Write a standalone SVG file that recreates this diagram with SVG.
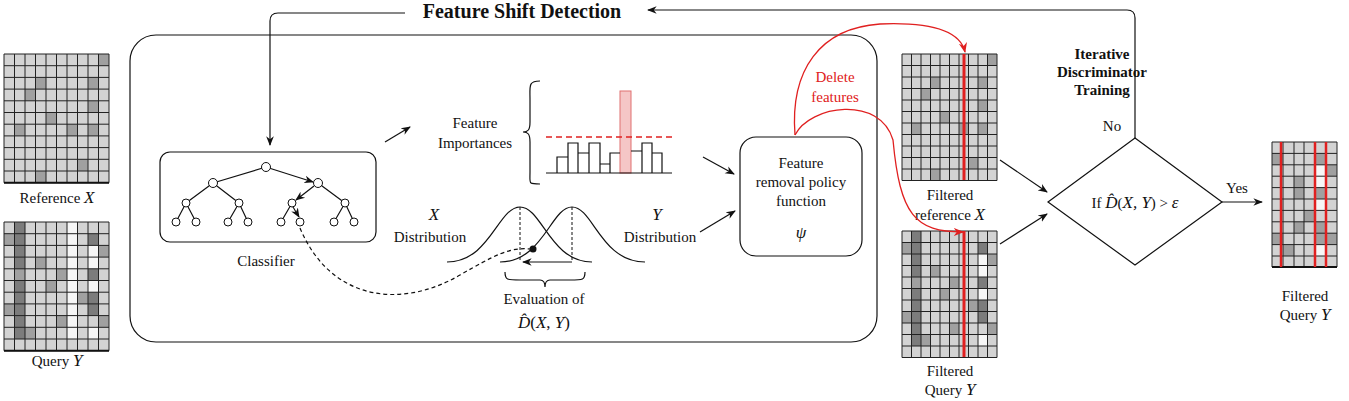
<svg xmlns="http://www.w3.org/2000/svg" width="1349" height="401" viewBox="0 0 1349 401">
<defs>
<style>
text{font-family:"Liberation Serif","Times New Roman",serif;font-size:15px;fill:#111;text-anchor:middle}
.it{font-style:italic;font-size:17px}
.ln{fill:none;stroke:#111;stroke-width:1.2}
.gl{fill:none;stroke:#222;stroke-width:1}
.red{fill:none;stroke:#e02020;stroke-width:1.3}
.nd{fill:#fff;stroke:#111;stroke-width:1}
.d1{fill:#a0a0a0}.d2{fill:#7c7c7c}.w{fill:#f6f6f6}
</style>
<marker id="ah" viewBox="0 0 10 10" refX="9" refY="5" markerWidth="8" markerHeight="8" orient="auto-start-reverse"><path d="M0,1 L10,5 L0,9 L3,5z" fill="#111"/></marker>
<marker id="ahr" viewBox="0 0 10 10" refX="9" refY="5" markerWidth="8" markerHeight="8" orient="auto"><path d="M0,1 L10,5 L0,9 L3,5z" fill="#e02020"/></marker>
<g id="refcells">
<rect class="d1" x="9" y="0" width="1" height="1"/><rect class="d1" x="3" y="2" width="1" height="1"/><rect class="d1" x="8" y="2" width="1" height="1"/><rect class="d1" x="2" y="3" width="1" height="1"/><rect class="d1" x="8" y="4" width="1" height="1"/><rect class="d1" x="4" y="5" width="1" height="1"/><rect class="d1" x="1" y="6" width="1" height="1"/><rect class="d1" x="6" y="6" width="1" height="1"/><rect class="d1" x="8" y="6" width="1" height="1"/><rect class="d1" x="7" y="9" width="1" height="1"/><rect class="d1" x="3" y="10" width="1" height="1"/>
</g>
<g id="qcells">
<rect class="d2" x="1" y="0" width="1" height="10"/><rect class="w" x="6" y="0" width="1" height="10"/>
<rect class="d1" x="0" y="1" width="1" height="1"/><rect class="d2" x="8" y="1" width="1" height="1"/>
<rect class="w" x="8" y="2" width="1" height="2"/><rect class="d1" x="9" y="2" width="1" height="1"/>
<rect class="d1" x="3" y="3" width="1" height="1"/><rect class="d1" x="1" y="4" width="1" height="1"/><rect class="d1" x="5" y="4" width="1" height="1"/><rect class="d2" x="8" y="4" width="1" height="1"/>
<rect class="d1" x="4" y="5" width="1" height="1"/><rect class="w" x="8" y="5" width="1" height="1"/>
<rect class="d1" x="7" y="6" width="1" height="1"/><rect class="d2" x="8" y="6" width="1" height="2"/>
<rect class="d1" x="0" y="7" width="1" height="1"/><rect class="d1" x="5" y="8" width="1" height="1"/><rect class="d1" x="9" y="8" width="1" height="1"/>
<rect class="d1" x="2" y="9" width="1" height="1"/><rect class="w" x="8" y="9" width="1" height="1"/>
</g>
</defs>
<rect width="1349" height="401" fill="#fff"/>

<g id="referenceX">
<g transform="translate(4,54) scale(10.5,11.7)"><rect width="10" height="11" fill="#d3d3d3"/><use href="#refcells"/></g>
<path class="gl" d="M4,54 h105 v128.7 h-105z M14.5,54v128.7M25,54v128.7M35.5,54v128.7M46,54v128.7M56.5,54v128.7M67,54v128.7M77.5,54v128.7M88,54v128.7M98.5,54v128.7M4,65.7h105M4,77.4h105M4,89.1h105M4,100.8h105M4,112.5h105M4,124.2h105M4,135.9h105M4,147.6h105M4,159.3h105M4,171h105"/>
<path d="M4,182.7h105" stroke="#111" stroke-width="2"/>
<text x="57" y="203">Reference <tspan class="it">X</tspan></text>
</g>

<g id="queryY">
<g transform="translate(4,222) scale(10.5,11.7)"><rect width="10" height="11" fill="#d3d3d3"/><use href="#qcells"/></g>
<path class="gl" d="M4,222 h105 v128.7 h-105z M14.5,222v128.7M25,222v128.7M35.5,222v128.7M46,222v128.7M56.5,222v128.7M67,222v128.7M77.5,222v128.7M88,222v128.7M98.5,222v128.7M4,233.7h105M4,245.4h105M4,257.1h105M4,268.8h105M4,280.5h105M4,292.2h105M4,303.9h105M4,315.6h105M4,327.3h105M4,339h105"/>
<path d="M4,350.7h105" stroke="#111" stroke-width="2"/>
<text x="57" y="366">Query <tspan class="it">Y</tspan></text>
</g>

<g id="title"><text x="522" y="18" style="font-weight:bold;font-size:20px">Feature Shift Detection</text></g>

<g id="mainbox"><rect x="130" y="35" width="747" height="307" rx="26" class="ln"/></g>

<g id="classifier">
<rect x="160" y="152" width="216" height="90" rx="10" class="ln"/>
<g class="ln" stroke-width="1">
<path d="M266,167L213,183M213,183L186,203M213,183L239,203M318,183L345,203M186,203L176,222M186,203L196,222M239,203L228,222M239,203L248,222M292,203L281,222M345,203L334,222M345,203L354,222"/>
</g>
<g class="ln" stroke-width="2">
<path d="M269,168L313,182" marker-end="url(#ah)"/><path d="M314,186L296,200" marker-end="url(#ah)"/><path d="M293,207L299,217" marker-end="url(#ah)"/>
</g>
<g class="nd"><circle cx="266" cy="167" r="4.5"/><circle cx="213" cy="183" r="4.5"/><circle cx="318" cy="183" r="4.5"/>
<circle cx="186" cy="203" r="4"/><circle cx="239" cy="203" r="4"/><circle cx="292" cy="203" r="4"/><circle cx="345" cy="203" r="4"/>
<circle cx="176" cy="222" r="4"/><circle cx="196" cy="222" r="4"/><circle cx="228" cy="222" r="4"/><circle cx="248" cy="222" r="4"/><circle cx="281" cy="222" r="4"/><circle cx="300" cy="222" r="4"/><circle cx="334" cy="222" r="4"/><circle cx="354" cy="222" r="4"/></g>
<text x="266" y="266">Classifier</text>
</g>

<g id="importances">
<text x="475" y="128">Feature</text><text x="475" y="148">Importances</text>
<path class="ln" d="M540,81 C528,81 530,86 530,100 L530,122 C530,130 528,132 523,132 C528,132 530,134 530,142 L530,172 C530,184 528,184 540,184"/>
<rect x="620" y="91" width="11" height="82" fill="#f5c6c6" stroke="#e07070" stroke-width="1"/>
<g class="ln" stroke-width="1"><path d="M557,173V157H568V173M568,157V143H578V173M578,153H589V173M589,153V143H600V173M600,164H610V173M610,164V153H620M631,151H642V173M642,151V143H652V173M652,153H662V173"/></g>
<path d="M546,173H672" class="ln"/>
<path d="M546,137H672" stroke="#e02020" stroke-width="1.5" stroke-dasharray="6,4" fill="none"/>
</g>

<g id="distributions">
<path class="ln" stroke-width="2.5" d="M447,262 C490,262 498,207 520,207 C542,207 550,262 592,262"/>
<path class="ln" d="M500,262 C543,262 551,207 572,207 C593,207 601,262 645,262"/>
<path d="M520,207V262M572,207V262" stroke="#111" stroke-dasharray="3,2" fill="none"/>
<path class="ln" d="M572,262H523" marker-end="url(#ah)"/>
<circle cx="533" cy="249" r="3.5" fill="#111"/>
<text x="434" y="220" class="it">X</text><text x="430" y="242">Distribution</text>
<text x="657" y="220" class="it">Y</text><text x="660" y="242">Distribution</text>
<path class="ln" d="M505,272 C505,280 507,280 520,280 L540,280 C543,280 545,282 545,287 C545,282 547,280 550,280 L570,280 C583,280 585,280 585,272"/>
<text x="544" y="304">Evaluation of</text>
<text x="544" y="328" class="it">D̂<tspan style="font-style:normal">(</tspan>X<tspan style="font-style:normal">,</tspan> Y<tspan style="font-style:normal">)</tspan></text>
</g>

<g id="policy">
<rect x="740" y="137" width="122" height="119" rx="16" class="ln"/>
<text x="801" y="168">Feature</text><text x="801" y="187">removal policy</text><text x="801" y="206">function</text>
<text x="801" y="238" class="it">ψ</text>
</g>

<g id="filteredX">
<g transform="translate(902,54) scale(9.5,11.5)"><rect width="10" height="11" fill="#d3d3d3"/><use href="#refcells"/></g>
<path class="gl" d="M902,54h95v126.5h-95z M911.5,54v126.5M921,54v126.5M930.5,54v126.5M940,54v126.5M949.5,54v126.5M959,54v126.5M968.5,54v126.5M978,54v126.5M987.5,54v126.5M902,65.5h95M902,77h95M902,88.5h95M902,100h95M902,111.5h95M902,123h95M902,134.5h95M902,146h95M902,157.5h95M902,169h95"/>
<path d="M964,54V180" stroke="#e02020" stroke-width="3"/>
<text x="950" y="200">Filtered</text><text x="950" y="220">reference <tspan class="it">X</tspan></text>
</g>

<g id="filteredY">
<g transform="translate(902,231) scale(9.5,11.5)"><rect width="10" height="11" fill="#d3d3d3"/><use href="#qcells"/><rect x="6" width="1" height="11" fill="#d3d3d3"/></g>
<path class="gl" d="M902,231h95v126.5h-95z M911.5,231v126.5M921,231v126.5M930.5,231v126.5M940,231v126.5M949.5,231v126.5M959,231v126.5M968.5,231v126.5M978,231v126.5M987.5,231v126.5M902,242.5h95M902,254h95M902,265.5h95M902,277h95M902,288.5h95M902,300h95M902,311.5h95M902,323h95M902,334.5h95M902,346h95"/>
<path d="M964,231V357" stroke="#e02020" stroke-width="3"/>
<text x="950" y="376">Filtered</text><text x="950" y="395">Query <tspan class="it">Y</tspan></text>
</g>

<g id="decision">
<path d="M1135,138L1222,202L1135,265L1048,202Z" class="ln"/>
<text x="1135" y="208">If <tspan class="it">D̂</tspan>(<tspan class="it">X, Y</tspan>) &gt; <tspan class="it">ε</tspan></text>
<text x="1102" y="59" style="font-weight:bold">Iterative</text><text x="1102" y="77" style="font-weight:bold">Discriminator</text><text x="1102" y="95" style="font-weight:bold">Training</text>
<text x="1112" y="131">No</text><text x="1237" y="193">Yes</text>
</g>

<g id="final">
<rect x="1272" y="142" width="65" height="125" fill="#d3d3d3"/>
<rect x="1272" y="153.4" width="11" height="11.4" class="d1"/><rect x="1272" y="233.2" width="11" height="11.4" class="d1"/>
<rect x="1294" y="176.2" width="10" height="22.8" class="d1"/><rect x="1294" y="221.8" width="10" height="11.4" class="d1"/><rect x="1283" y="244.6" width="11" height="11.4" class="d1"/>
<rect x="1304" y="210.4" width="11" height="11.4" class="d1"/>
<rect x="1315" y="153.4" width="11" height="11.4" class="d1"/><rect x="1315" y="187.6" width="11" height="11.4" class="d1"/><rect x="1315" y="221.8" width="11" height="22.8" class="d1"/>
<rect x="1326" y="164.8" width="11" height="11.4" class="d1"/><rect x="1326" y="233.2" width="11" height="11.4" class="d1"/>
<rect x="1315" y="164.8" width="11" height="22.8" class="w"/><rect x="1315" y="199" width="11" height="11.4" class="w"/><rect x="1315" y="244.6" width="11" height="11.4" class="w"/>
<path class="gl" d="M1272,142h65v125h-65z M1283,142v125M1294,142v125M1304,142v125M1315,142v125M1326,142v125M1272,153.4h65M1272,164.8h65M1272,176.2h65M1272,187.6h65M1272,199h65M1272,210.4h65M1272,221.8h65M1272,233.2h65M1272,244.6h65M1272,256h65"/>
<path d="M1272,267h65" stroke="#111" stroke-width="2"/>
<path d="M1281,142V267M1315,142V267M1326,142V267" stroke="#e02020" stroke-width="2.5"/>
<text x="1305" y="301">Filtered</text><text x="1305" y="320">Query <tspan class="it">Y</tspan></text>
</g>

<g id="connectors">
<path class="ln" d="M405,13H278Q270,13 270,21V145" marker-end="url(#ah)"/>
<path class="ln" d="M1135,138V18Q1135,10 1127,10H648" marker-end="url(#ah)"/>
<path class="ln" d="M385,142L410,127" marker-end="url(#ah)"/>
<path class="ln" d="M703,157L734,174" marker-end="url(#ah)"/>
<path class="ln" d="M700,232L735,211" marker-end="url(#ah)"/>
<path class="ln" d="M1000,160L1047,192" marker-end="url(#ah)"/>
<path class="ln" d="M1000,244L1047,214" marker-end="url(#ah)"/>
<path class="ln" d="M1222,202H1262" marker-end="url(#ah)"/>
<path class="ln" stroke-dasharray="4,3" d="M300,228 C330,300 400,310 460,275 C495,255 510,247 530,249"/>
<path class="red" d="M795,135 C790,70 820,28 880,24 C930,22 960,30 965,52" marker-end="url(#ahr)"/>
<path class="red" d="M795,135 C810,105 880,95 893,140 C900,215 915,232 963,232" marker-end="url(#ahr)"/>
<text x="835" y="82" style="fill:#e02020">Delete</text>
<text x="835" y="102" style="fill:#e02020">features</text>
</g>
</svg>
